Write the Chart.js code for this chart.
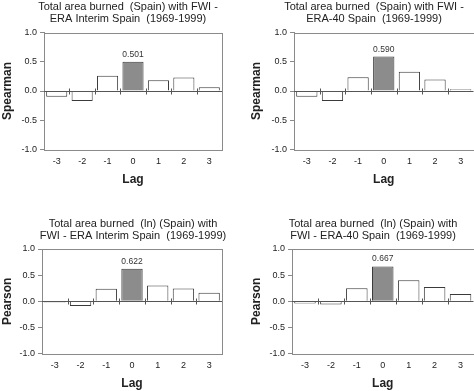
<!DOCTYPE html>
<html><head><meta charset="utf-8">
<script src="https://cdn.jsdelivr.net/npm/chart.js@4.4.1/dist/chart.umd.min.js"></script>
<style>
html,body{margin:0;padding:0;background:#fff;width:474px;height:391px;overflow:hidden;}
.p{position:absolute;}
</style></head>
<body>
<div class="p" style="left:0;top:0"><canvas id="c1" width="237" height="195"></canvas></div>
<div class="p" style="left:237px;top:0"><canvas id="c2" width="237" height="195"></canvas></div>
<div class="p" style="left:0;top:195px"><canvas id="c3" width="237" height="196"></canvas></div>
<div class="p" style="left:237px;top:195px"><canvas id="c4" width="237" height="196"></canvas></div>
<script>
const lags = ['-3','-2','-1','0','1','2','3'];
const spearmanInterim = [-0.10, -0.17, 0.26, 0.501, 0.185, 0.23, 0.064];
const spearmanEra40   = [-0.10, -0.17, 0.237, 0.590, 0.33, 0.197, 0.03];
const pearsonInterim  = [-0.025, -0.09, 0.24, 0.622, 0.30, 0.245, 0.163];
const pearsonEra40    = [-0.044, -0.063, 0.25, 0.667, 0.40, 0.275, 0.138];
const yTicks = [-1.0, -0.5, 0.0, 0.5, 1.0];

const FONT = '"Liberation Sans", Arial, sans-serif';

const deco = {
  id: 'deco',
  afterDatasetsDraw(chart) {
    const o = chart.options.plugins.deco;
    const ctx = chart.ctx, a = chart.chartArea;
    const x = chart.scales.x, y = chart.scales.y;
    ctx.save();
    // frame
    ctx.strokeStyle = '#8a8a8a'; ctx.lineWidth = 1;
    ctx.strokeRect(Math.round(a.left)+0.5, Math.round(a.top)+0.5, Math.round(a.right)-Math.round(a.left), Math.round(a.bottom)-Math.round(a.top));
    // zero line
    const y0 = Math.round(y.getPixelForValue(0)) + 0.5;
    ctx.strokeStyle = '#555';
    ctx.beginPath(); ctx.moveTo(a.left, y0); ctx.lineTo(a.right, y0); ctx.stroke();
    // tick marks between categories on zero line
    for (let i = 0; i < lags.length - 1; i++) {
      const bx = Math.round((x.getPixelForValue(i) + x.getPixelForValue(i+1)) / 2) + 0.5;
      ctx.beginPath(); ctx.moveTo(bx, y0 - 3); ctx.lineTo(bx, y0 + 3); ctx.stroke();
    }
    // value label for lag 0
    const meta = chart.getDatasetMeta(0);
    const idx = lags.indexOf('0');
    const bar = meta.data[idx];
    const v = chart.data.datasets[0].data[idx];
    ctx.fillStyle = '#333';
    ctx.font = '8.5px ' + FONT;
    ctx.textAlign = 'center'; ctx.textBaseline = 'bottom';
    ctx.fillText(v.toFixed(3), bar.x, bar.y - 3);
    // title
    ctx.fillStyle = '#222';
    ctx.font = '11px ' + FONT;
    ctx.textBaseline = 'middle';
    o.title.forEach((t, i) => ctx.fillText(t, o.titleX, o.titleY[i]));
    // x title
    ctx.font = 'bold 12px ' + FONT;
    ctx.fillText('Lag', (a.left + a.right) / 2, a.bottom + 30);
    // y title
    ctx.translate(o.yTitleX, (a.top + a.bottom) / 2);
    ctx.rotate(-Math.PI / 2);
    ctx.fillText(o.yTitle, 0, 0);
    ctx.restore();
  }
};

function make(id, data, yTitle, title, area, titleX, titleY, yTitleX) {
  const el = document.getElementById(id);
  const W = el.width, H = el.height;
  return new Chart(el, {
    type: 'bar',
    data: {
      labels: lags,
      datasets: [{
        data: data,
        backgroundColor: lags.map(l => l === '0' ? '#8c8c8c' : '#ffffff'),
        borderColor: '#3a3a3a',
        borderWidth: 1,
        categoryPercentage: 0.83,
        barPercentage: 1.0
      }]
    },
    plugins: [deco],
    options: {
      responsive: false,
      animation: false,
      devicePixelRatio: 1,
      layout: { padding: { top: area.top, right: W - area.right, left: 0, bottom: 0 } },
      plugins: {
        legend: { display: false },
        tooltip: { enabled: false },
        deco: { title: title, titleX: titleX, titleY: titleY, yTitle: yTitle, yTitleX: yTitleX }
      },
      scales: {
        x: {
          type: 'category',
          grid: { display: false, drawTicks: false },
          border: { display: false },
          ticks: { font: { family: FONT, size: 9 }, color: '#222', padding: 7, maxRotation: 0 },
          afterFit(s) { s.height = H - area.bottom; }
        },
        y: {
          min: -1, max: 1,
          afterBuildTicks(s) { s.ticks = yTicks.map(v => ({ value: v })); },
          grid: { drawOnChartArea: false, tickLength: 4, color: '#8a8a8a' },
          border: { color: '#8a8a8a' },
          ticks: { font: { family: FONT, size: 9 }, color: '#222', padding: 3,
                   callback: v => Number(v).toFixed(1) },
          afterFit(s) { s.width = area.left; }
        }
      }
    }
  });
}

make('c1', spearmanInterim, 'Spearman',
  ['Total area burned  (Spain) with FWI -', 'ERA Interim Spain  (1969-1999)'],
  { left: 44, top: 32.5, right: 222, bottom: 149.5 }, 128, [7, 19], 8);
make('c2', spearmanEra40, 'Spearman',
  ['Total area burned  (Spain) with FWI -', 'ERA-40 Spain  (1969-1999)'],
  { left: 57, top: 32.5, right: 236.5, bottom: 149.5 }, 137, [7, 19], 20);
make('c3', pearsonInterim, 'Pearson',
  ['Total area burned  (ln) (Spain) with', 'FWI - ERA Interim Spain  (1969-1999)'],
  { left: 42, top: 54, right: 222, bottom: 158.5 }, 133, [29, 40.5], 8);
make('c4', pearsonEra40, 'Pearson',
  ['Total area burned  (ln) (Spain) with', 'FWI - ERA-40 Spain  (1969-1999)'],
  { left: 55, top: 54, right: 236.5, bottom: 158.5 }, 136, [29, 40.5], 20);
</script>
</body></html>
